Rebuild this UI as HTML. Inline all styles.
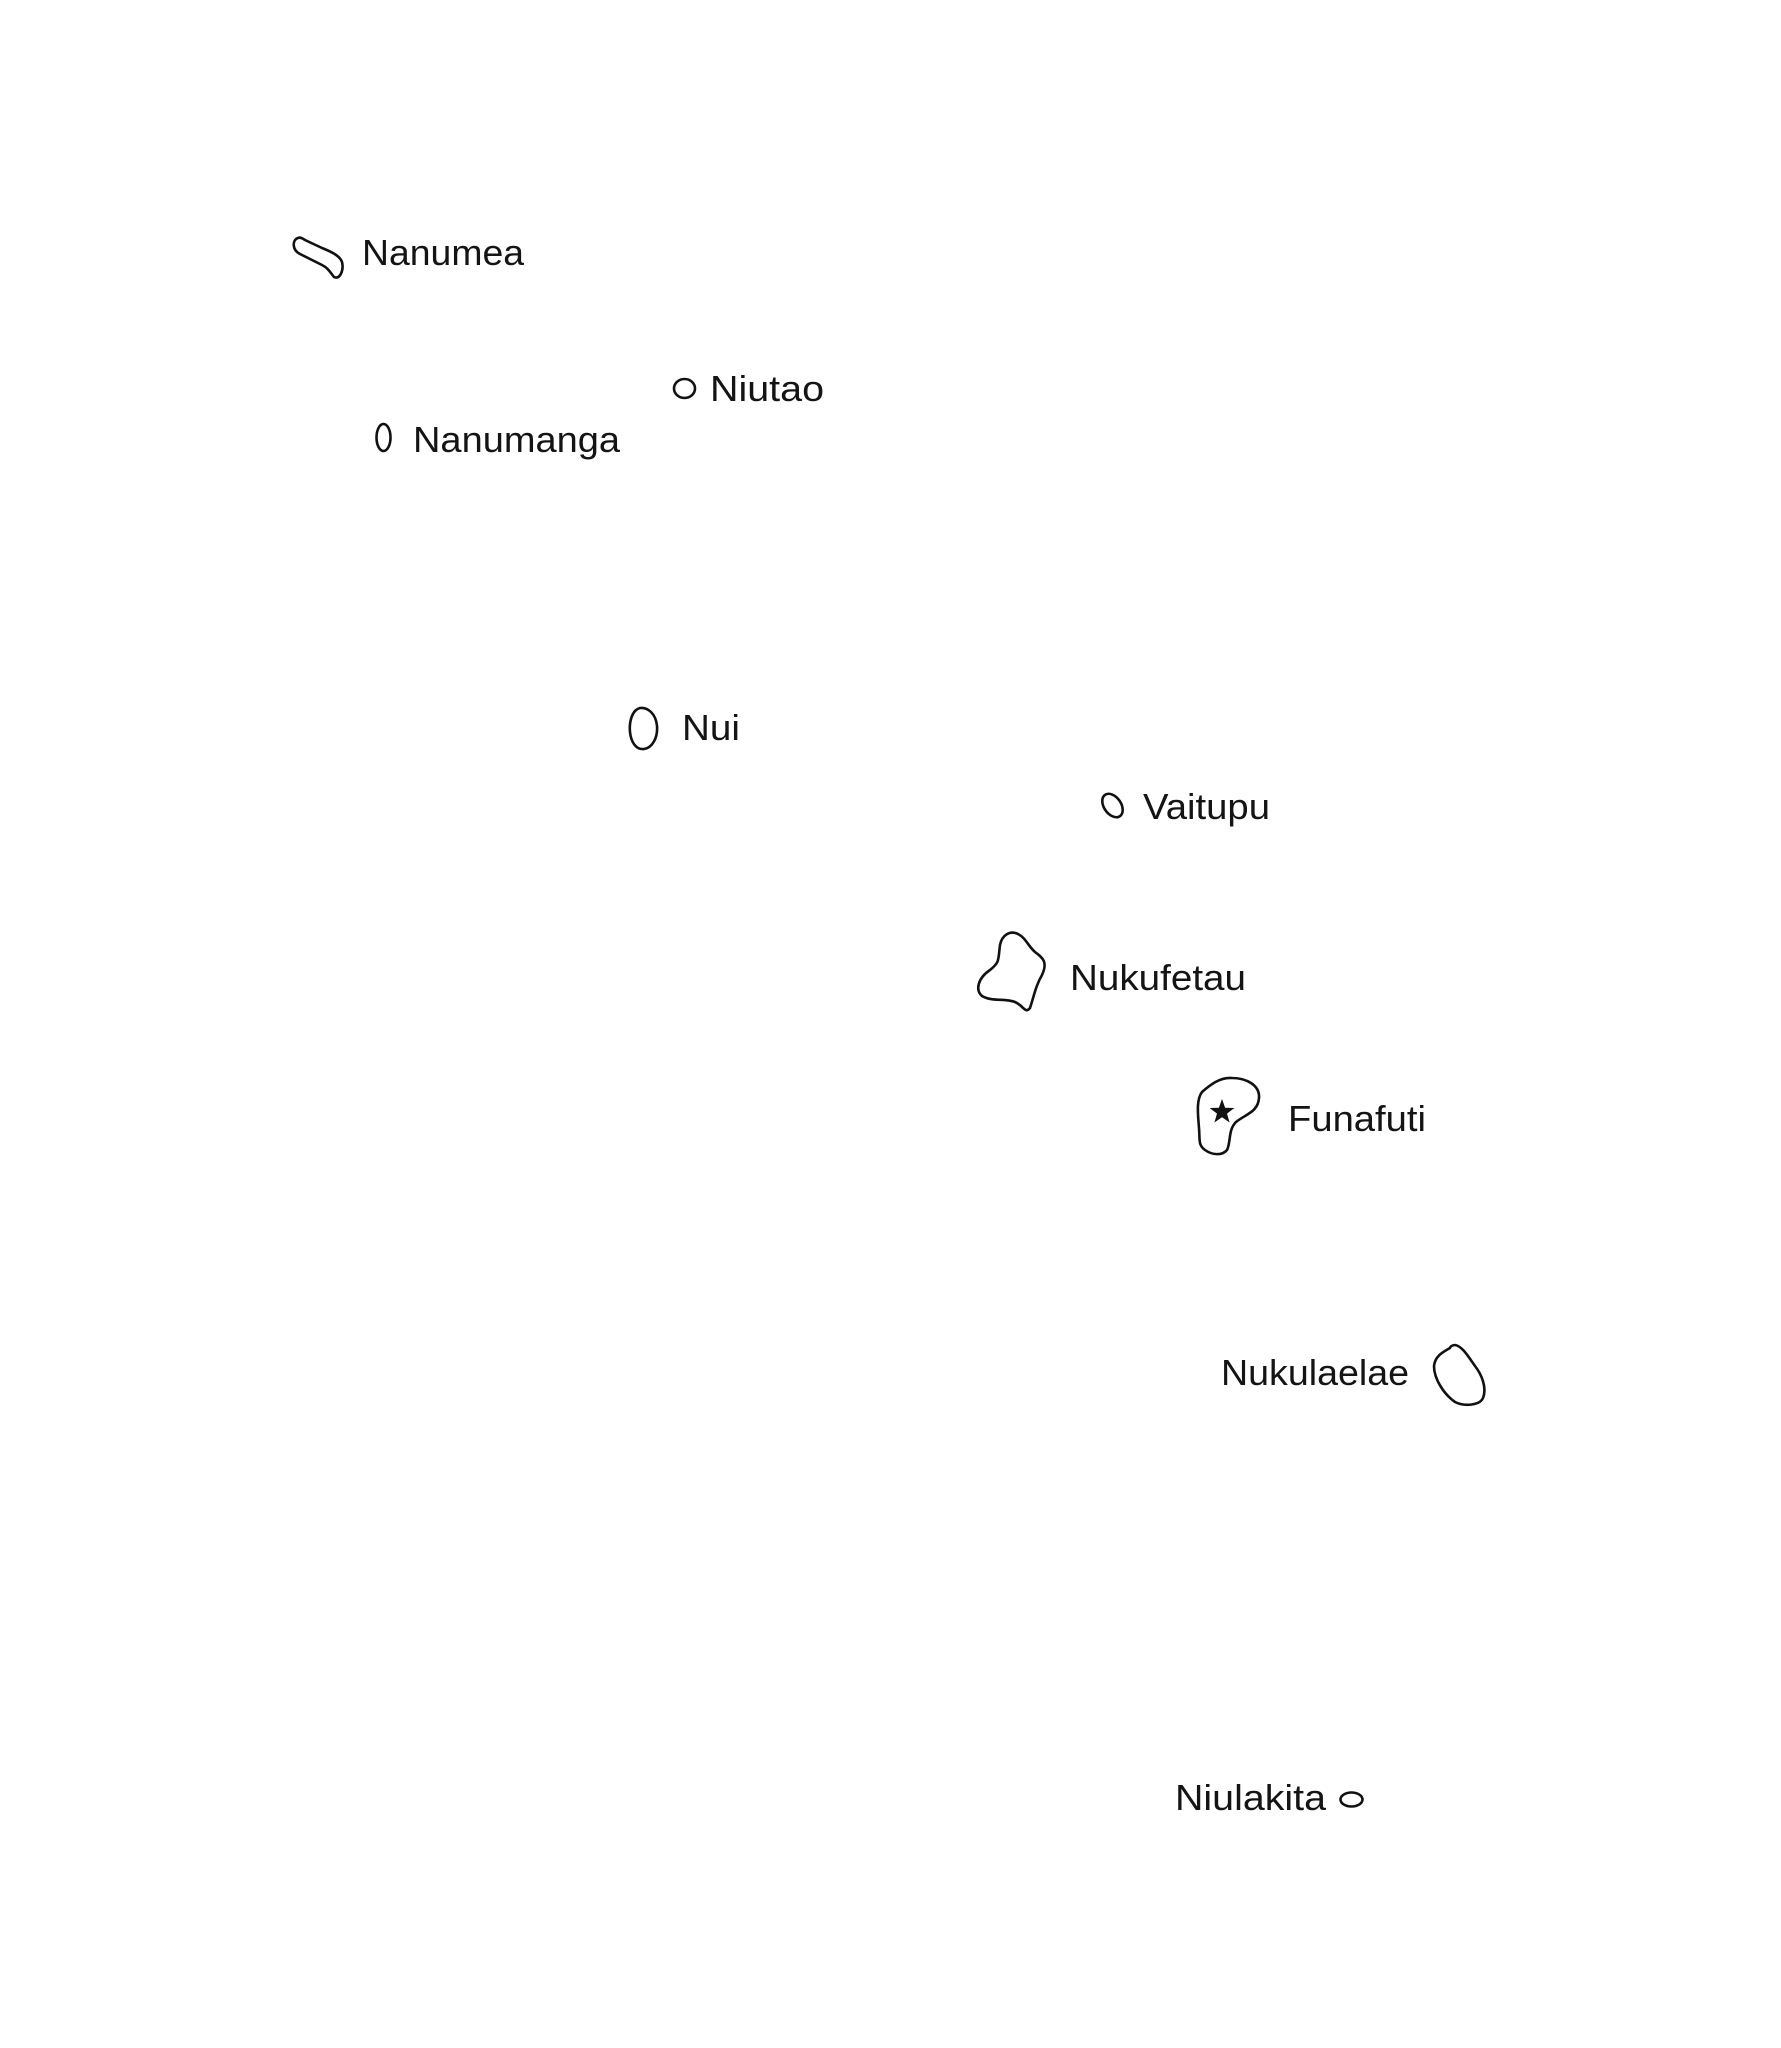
<!DOCTYPE html>
<html><head><meta charset="utf-8"><style>
html,body{margin:0;padding:0;background:#fff;}
svg{display:block}
text{font-family:"Liberation Sans",sans-serif;font-size:36px;fill:#141414;}
</style></head><body>
<svg width="1781" height="2048" viewBox="0 0 1781 2048" xmlns="http://www.w3.org/2000/svg">
<g fill="none" stroke="#111" stroke-width="2.6" stroke-linejoin="round">
<path d="M298,238 C292,240 292,250 300,254 L322,265 C328,268 330,272 334,277 C340,280 344,270 342,262 C340,256 332,252 322,248 L305,240 C302,238 300,237 298,238 Z"/>
<ellipse cx="684.5" cy="388.5" rx="10.5" ry="9.5"/>
<ellipse cx="383.5" cy="437.5" rx="7" ry="13.5"/>
<path d="M640,708 C632,710 629,722 630,732 C631,742 636,750 644,749 C652,748 658,738 657,726 C656,714 648,707 640,708 Z"/>
<ellipse cx="1112.5" cy="805.5" rx="8.5" ry="13" transform="rotate(-35 1112.5 805.5)"/>
<path d="M1018,934 C1010,930 1002,935 1000,945 C998,960 1000,962 990,970 C978,978 975,990 982,996 C992,1002 1005,998 1015,1002 C1024,1006 1025,1014 1030,1008 C1034,996 1036,985 1042,975 C1048,962 1043,958 1035,952 C1028,946 1026,938 1018,934 Z"/>
<path d="M1232,1078 C1220,1077 1210,1085 1202,1092 C1196,1100 1198,1115 1199,1128 C1200,1140 1198,1145 1205,1150 C1212,1155 1222,1156 1227,1150 C1231,1142 1228,1130 1236,1122 C1246,1114 1258,1112 1259,1098 C1260,1085 1246,1078 1232,1078 Z"/>
<path d="M1450,1348 C1443,1352 1435,1356 1434,1366 C1434,1380 1445,1395 1455,1402 C1465,1407 1480,1405 1483,1398 C1487,1388 1482,1375 1475,1366 C1468,1356 1462,1346 1455,1345 C1452,1345 1450,1347 1450,1348 Z"/>
<ellipse cx="1351.5" cy="1799.5" rx="11" ry="7"/>
</g>
<polygon fill="#111" points="1222,1099 1225.1,1107.8 1234.4,1108 1227,1113.6 1229.6,1122.5 1222,1117.2 1214.4,1122.5 1217,1113.6 1209.6,1108 1218.9,1107.8"/>
<text x="362" y="265" textLength="162" lengthAdjust="spacingAndGlyphs">Nanumea</text>
<text x="710" y="401" textLength="114" lengthAdjust="spacingAndGlyphs">Niutao</text>
<text x="413" y="452" textLength="207" lengthAdjust="spacingAndGlyphs">Nanumanga</text>
<text x="682" y="740" textLength="58" lengthAdjust="spacingAndGlyphs">Nui</text>
<text x="1143" y="819" textLength="127" lengthAdjust="spacingAndGlyphs">Vaitupu</text>
<text x="1070" y="990" textLength="176" lengthAdjust="spacingAndGlyphs">Nukufetau</text>
<text x="1288" y="1131" textLength="138" lengthAdjust="spacingAndGlyphs">Funafuti</text>
<text x="1221" y="1385" textLength="188" lengthAdjust="spacingAndGlyphs">Nukulaelae</text>
<text x="1175" y="1810" textLength="151" lengthAdjust="spacingAndGlyphs">Niulakita</text>
</svg>
</body></html>
